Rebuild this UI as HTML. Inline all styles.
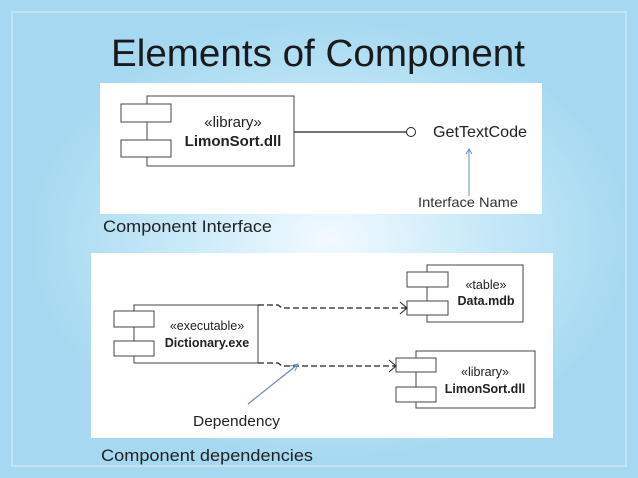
<!DOCTYPE html>
<html><head><meta charset="utf-8"><style>
html,body{margin:0;padding:0;width:638px;height:478px;overflow:hidden}
body{background:radial-gradient(ellipse 300px 220px at 330px 240px,#f2faff 0%,#c8e9f8 50%,#a6d9f1 100%);}
svg{position:absolute;left:0;top:0}
</style></head><body>
<svg width="638" height="478" xmlns="http://www.w3.org/2000/svg" font-family="Liberation Sans, sans-serif">
<rect x="12" y="12" width="614" height="454" fill="none" stroke="#d8f0fb" stroke-width="1"/>
<text x="318" y="66" text-anchor="middle" font-size="38" fill="#1a1a1a" textLength="414" lengthAdjust="spacingAndGlyphs">Elements of Component</text>
<rect x="100" y="83" width="442" height="131" fill="#fff"/>
<g fill="#fff" stroke="#444" stroke-width="1">
<rect x="147" y="96" width="147" height="70"/>
<rect x="121" y="104" width="50" height="18"/>
<rect x="121" y="140" width="50" height="17"/>
</g>
<text x="233" y="127" text-anchor="middle" font-size="15" fill="#222">«library»</text>
<text x="233" y="146" text-anchor="middle" font-size="15" font-weight="bold" fill="#222">LimonSort.dll</text>
<line x1="294" y1="132" x2="407" y2="132" stroke="#222" stroke-width="1.3"/>
<circle cx="411" cy="132" r="4.5" fill="#fff" stroke="#222"/>
<text x="433" y="137" font-size="16" fill="#222" textLength="94" lengthAdjust="spacingAndGlyphs">GetTextCode</text>
<line x1="469" y1="196" x2="469" y2="150" stroke="#6a8fc0" stroke-width="1"/>
<path d="M466 154 L469 149 L472 154" fill="none" stroke="#6a8fc0"/>
<text x="418" y="207" font-size="14" fill="#333" textLength="100" lengthAdjust="spacingAndGlyphs">Interface Name</text>
<text x="103" y="232" font-size="17" fill="#222" textLength="169" lengthAdjust="spacingAndGlyphs">Component Interface</text>

<rect x="91" y="253" width="462" height="185" fill="#fff"/>
<g fill="#fff" stroke="#444" stroke-width="1">
<rect x="134" y="305" width="124" height="58"/>
<rect x="114" y="311" width="40" height="16"/>
<rect x="114" y="341" width="40" height="15"/>
<rect x="427" y="265" width="96" height="57"/>
<rect x="407" y="272" width="41" height="15"/>
<rect x="407" y="301" width="41" height="14"/>
<rect x="416" y="351" width="119" height="57"/>
<rect x="396" y="358" width="40" height="14"/>
<rect x="396" y="387" width="40" height="15"/>
</g>
<text x="207" y="330" text-anchor="middle" font-size="12.5" fill="#222">«executable»</text>
<text x="207" y="347" text-anchor="middle" font-size="12.5" font-weight="bold" fill="#222">Dictionary.exe</text>
<text x="486" y="289" text-anchor="middle" font-size="12.5" fill="#222">«table»</text>
<text x="486" y="305" text-anchor="middle" font-size="12.5" font-weight="bold" fill="#222">Data.mdb</text>
<text x="485" y="376" text-anchor="middle" font-size="12.5" fill="#222">«library»</text>
<text x="485" y="393" text-anchor="middle" font-size="12.5" font-weight="bold" fill="#222">LimonSort.dll</text>
<g fill="none" stroke="#222" stroke-width="1.3" stroke-dasharray="6,3">
<path d="M258 305 L278 305 L282 308 L406 308"/>
<path d="M258 363 L278 363 L282 366 L395 366"/>
</g>
<path d="M400 302 L407 308 L400 314" fill="none" stroke="#222"/>
<path d="M389 360 L396 366 L389 372" fill="none" stroke="#222"/>
<line x1="248" y1="404" x2="297" y2="365" stroke="#6a8fc0" stroke-width="1.3"/>
<path d="M290 366 L298 364 L295 371" fill="none" stroke="#6a8fc0"/>
<text x="193" y="426" font-size="15" fill="#222" textLength="87" lengthAdjust="spacingAndGlyphs">Dependency</text>
<text x="101" y="461" font-size="17" fill="#222" textLength="212" lengthAdjust="spacingAndGlyphs">Component dependencies</text>
</svg>
</body></html>
